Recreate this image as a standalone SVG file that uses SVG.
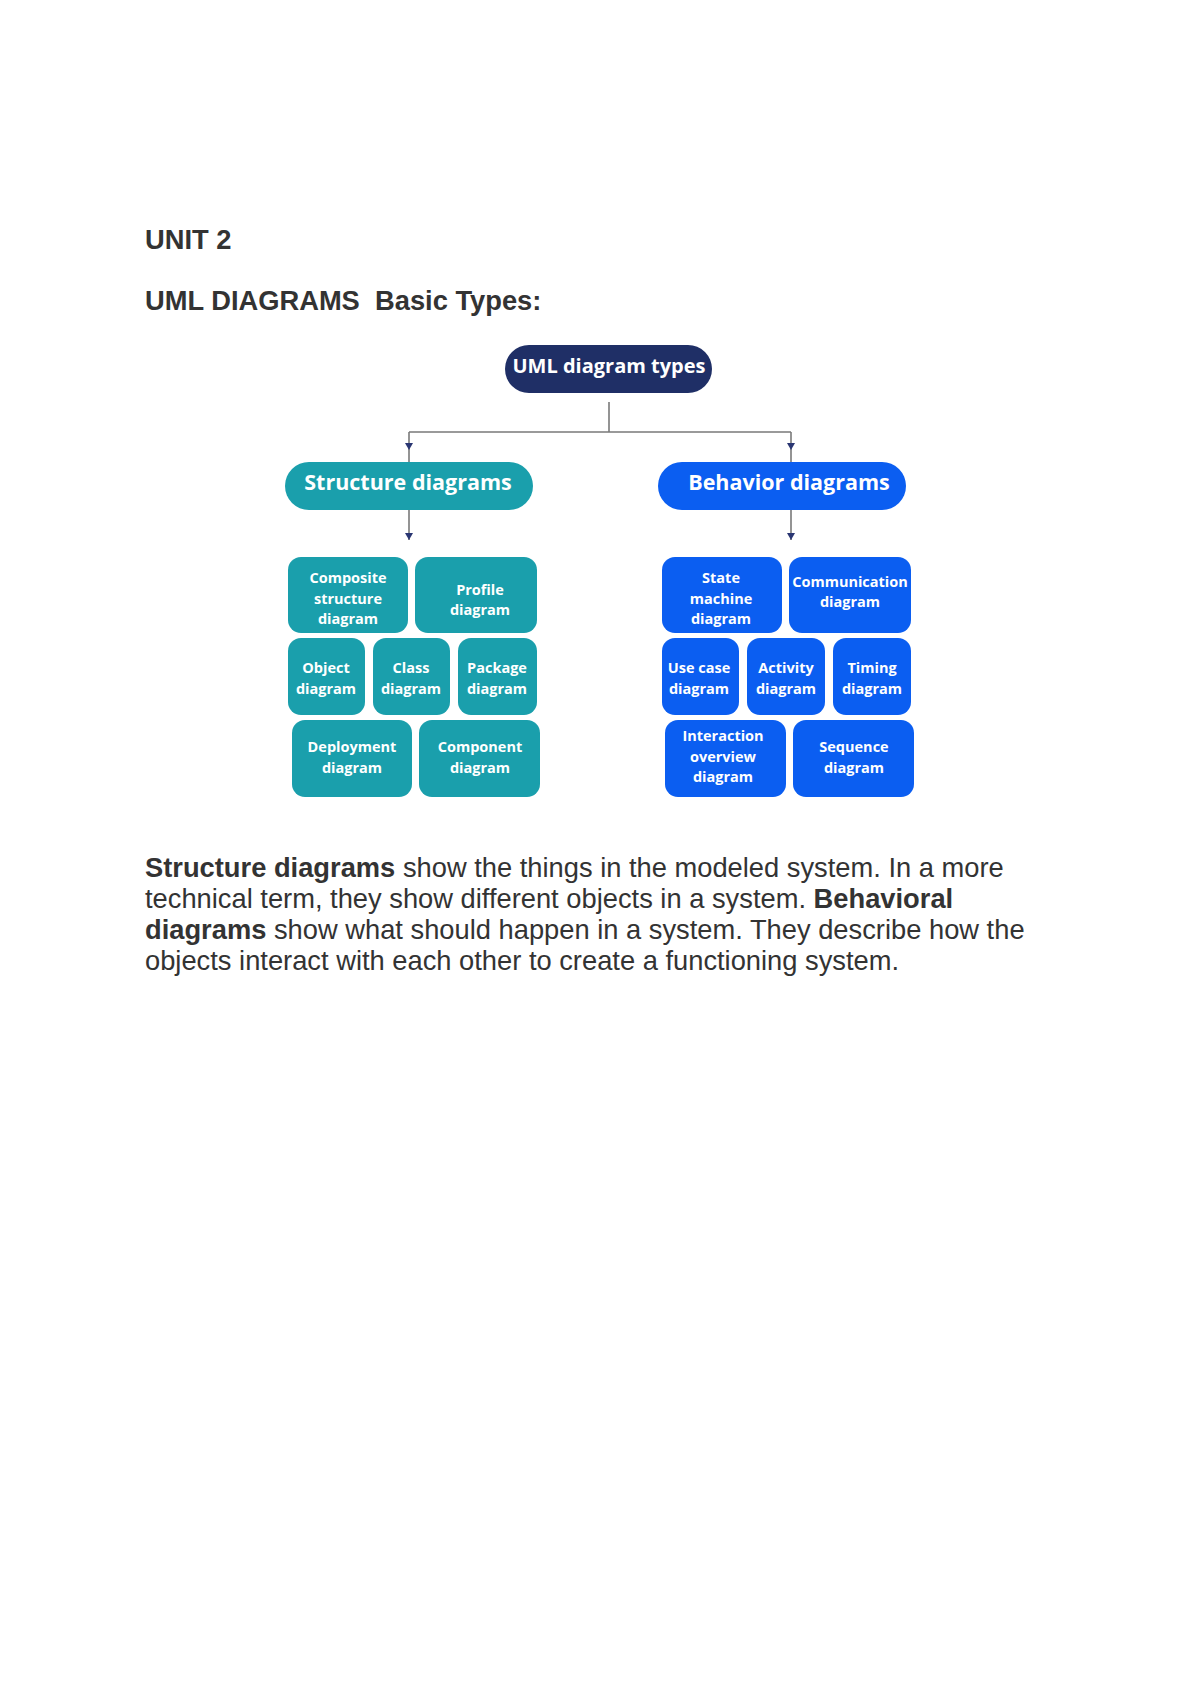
<svg xmlns="http://www.w3.org/2000/svg" width="1200" height="1696" viewBox="0 0 1200 1696">
<style>
.doc{font-family:"Liberation Sans",Arial,sans-serif;fill:#333333}
.h{font-size:27.3px;font-weight:bold}
.p{font-size:27.3px}
.b{font-weight:bold}
.pill{font-family:"Open Sans","Noto Sans",sans-serif;font-weight:700;fill:#ffffff;text-anchor:middle}
.lbl{font-family:"Open Sans","Noto Sans",sans-serif;font-weight:700;font-size:14.5px;fill:#ffffff;text-anchor:middle}
.teal{fill:#1a9fac}
.blue{fill:#0b5ef1}
.navy{fill:#1f2f66}
.conn{stroke:#7a7a7a;stroke-width:1.6;fill:none}
.arr{fill:#2a3672}
</style>
<rect width="1200" height="1696" fill="#ffffff"/>
<text class="doc h" x="145" y="249">UNIT 2</text>
<text class="doc h" x="145" y="310" xml:space="preserve">UML DIAGRAMS  Basic Types:</text>

<g id="connectors">
<path class="conn" d="M609 402 V432 M409 432 H791 M409 432 V462 M791 432 V462 M409 510 V540 M791 510 V540"/>
<polygon class="arr" points="405,443 413,443 409,450"/>
<polygon class="arr" points="787,443 795,443 791,450"/>
<polygon class="arr" points="405,533 413,533 409,540"/>
<polygon class="arr" points="787,533 795,533 791,540"/>
</g>

<g id="uml-types">
<rect class="navy" x="505" y="345" width="207" height="48" rx="24"/>
<text class="pill" x="609" y="373" font-size="20">UML diagram types</text>
</g>
<g id="structure">
<rect class="teal" x="285" y="462" width="248" height="48" rx="24"/>
<text class="pill" x="408" y="490" font-size="21.5">Structure diagrams</text>
</g>
<g id="behavior">
<rect class="blue" x="658" y="462" width="248" height="48" rx="24"/>
<text class="pill" x="789" y="490" font-size="21.5">Behavior diagrams</text>
</g>

<g id="composite">
<rect class="teal" x="288" y="557" width="120" height="76" rx="13"/>
<text class="lbl" x="348" y="583">Composite</text>
<text class="lbl" x="348" y="604">structure</text>
<text class="lbl" x="348" y="624">diagram</text>
</g>
<g id="profile">
<rect class="teal" x="415" y="557" width="122" height="76" rx="13"/>
<text class="lbl" x="480" y="595">Profile</text>
<text class="lbl" x="480" y="615">diagram</text>
</g>
<g id="object">
<rect class="teal" x="288" y="638" width="77" height="77" rx="13"/>
<text class="lbl" x="326" y="673">Object</text>
<text class="lbl" x="326" y="694">diagram</text>
</g>
<g id="class">
<rect class="teal" x="373" y="638" width="77" height="77" rx="13"/>
<text class="lbl" x="411" y="673">Class</text>
<text class="lbl" x="411" y="694">diagram</text>
</g>
<g id="package">
<rect class="teal" x="458" y="638" width="79" height="77" rx="13"/>
<text class="lbl" x="497" y="673">Package</text>
<text class="lbl" x="497" y="694">diagram</text>
</g>
<g id="deployment">
<rect class="teal" x="292" y="720" width="120" height="77" rx="13"/>
<text class="lbl" x="352" y="752">Deployment</text>
<text class="lbl" x="352" y="773">diagram</text>
</g>
<g id="component">
<rect class="teal" x="419" y="720" width="121" height="77" rx="13"/>
<text class="lbl" x="480" y="752">Component</text>
<text class="lbl" x="480" y="773">diagram</text>
</g>

<g id="state-machine">
<rect class="blue" x="662" y="557" width="120" height="76" rx="13"/>
<text class="lbl" x="721" y="583">State</text>
<text class="lbl" x="721" y="604">machine</text>
<text class="lbl" x="721" y="624">diagram</text>
</g>
<g id="communication">
<rect class="blue" x="789" y="557" width="122" height="76" rx="13"/>
<text class="lbl" x="850" y="587">Communication</text>
<text class="lbl" x="850" y="607">diagram</text>
</g>
<g id="use-case">
<rect class="blue" x="662" y="638" width="77" height="77" rx="13"/>
<text class="lbl" x="699" y="673">Use case</text>
<text class="lbl" x="699" y="694">diagram</text>
</g>
<g id="activity">
<rect class="blue" x="747" y="638" width="78" height="77" rx="13"/>
<text class="lbl" x="786" y="673">Activity</text>
<text class="lbl" x="786" y="694">diagram</text>
</g>
<g id="timing">
<rect class="blue" x="833" y="638" width="78" height="77" rx="13"/>
<text class="lbl" x="872" y="673">Timing</text>
<text class="lbl" x="872" y="694">diagram</text>
</g>
<g id="interaction-overview">
<rect class="blue" x="665" y="720" width="121" height="77" rx="13"/>
<text class="lbl" x="723" y="741">Interaction</text>
<text class="lbl" x="723" y="762">overview</text>
<text class="lbl" x="723" y="782">diagram</text>
</g>
<g id="sequence">
<rect class="blue" x="793" y="720" width="121" height="77" rx="13"/>
<text class="lbl" x="854" y="752">Sequence</text>
<text class="lbl" x="854" y="773">diagram</text>
</g>

<g id="paragraph" class="doc p">
<text x="145" y="877"><tspan class="b">Structure diagrams</tspan> show the things in the modeled system. In a more</text>
<text x="145" y="908">technical term, they show different objects in a system. <tspan class="b">Behavioral</tspan></text>
<text x="145" y="939"><tspan class="b">diagrams</tspan> show what should happen in a system. They describe how the</text>
<text x="145" y="970">objects interact with each other to create a functioning system.</text>
</g>
</svg>
